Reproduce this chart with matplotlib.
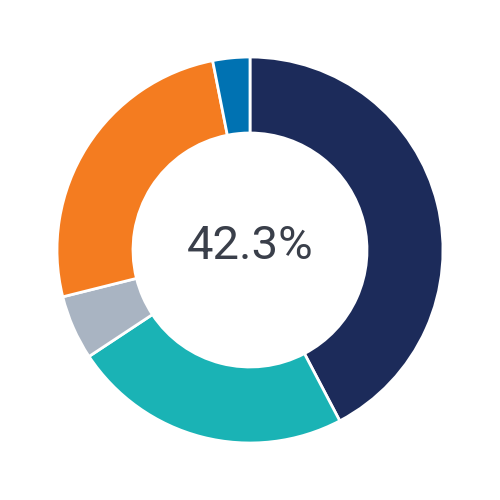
import matplotlib.pyplot as plt

# segment shares, clockwise from 12 o'clock
labels = ['A', 'B', 'C', 'D', 'E']
values = [42.3, 23.4, 5.4, 25.8, 3.1]
colors = ['#1c2b5a', '#1ab3b5', '#a9b4c2', '#f47c20', '#0072b2']
center_text = '42.3%'

fig = plt.figure(figsize=(5, 5), dpi=100, facecolor='white')
ax = fig.add_axes([0, 0, 1, 1])

ax.pie(values, colors=colors, startangle=90, counterclock=False,
       radius=0.386,
       wedgeprops=dict(width=0.152, edgecolor='white', linewidth=2))

ax.text(0, 0.008, center_text, ha='center', va='center',
        fontsize=34, color='#3a3f4a', family=['Roboto', 'DejaVu Sans'])

ax.set_xlim(-0.5, 0.5)
ax.set_ylim(-0.5, 0.5)
ax.set_aspect('equal')
ax.axis('off')

fig.savefig('out.png', dpi=100, facecolor='white')
